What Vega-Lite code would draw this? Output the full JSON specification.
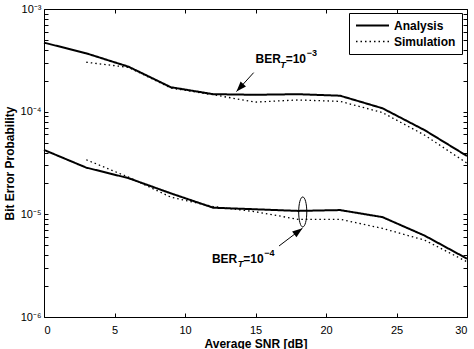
{
  "$schema": "https://vega.github.io/schema/vega-lite/v6.json",
  "width": 423,
  "height": 308,
  "autosize": {"type": "none"},
  "padding": {"left": 44, "top": 9, "right": 7, "bottom": 32},
  "config": {
    "view": {"stroke": "#000", "strokeWidth": 1},
    "font": "Liberation Sans",
    "axis": {
      "grid": false,
      "domain": false,
      "tickColor": "#000",
      "tickSize": -4,
      "tickWidth": 1,
      "labelColor": "#000",
      "labelFontSize": 11,
      "labelFont": "Liberation Sans",
      "titleFont": "Liberation Sans",
      "titleColor": "#000",
      "titleFontSize": 12,
      "titleFontWeight": "bold"
    }
  },
  "datasets": {
    "curves": [
      {"snr": 0, "ber": 4.7e-4, "type": "Analysis", "curve": "A3"},
      {"snr": 3, "ber": 3.7e-4, "type": "Analysis", "curve": "A3"},
      {"snr": 6, "ber": 2.74e-4, "type": "Analysis", "curve": "A3"},
      {"snr": 9, "ber": 1.73e-4, "type": "Analysis", "curve": "A3"},
      {"snr": 12, "ber": 1.48e-4, "type": "Analysis", "curve": "A3"},
      {"snr": 15, "ber": 1.46e-4, "type": "Analysis", "curve": "A3"},
      {"snr": 18, "ber": 1.48e-4, "type": "Analysis", "curve": "A3"},
      {"snr": 21, "ber": 1.43e-4, "type": "Analysis", "curve": "A3"},
      {"snr": 24, "ber": 1.08e-4, "type": "Analysis", "curve": "A3"},
      {"snr": 27, "ber": 6.6e-5, "type": "Analysis", "curve": "A3"},
      {"snr": 30, "ber": 3.7e-5, "type": "Analysis", "curve": "A3"},
      {"snr": 3, "ber": 3.03e-4, "type": "Simulation", "curve": "S3"},
      {"snr": 6, "ber": 2.7e-4, "type": "Simulation", "curve": "S3"},
      {"snr": 9, "ber": 1.7e-4, "type": "Simulation", "curve": "S3"},
      {"snr": 12, "ber": 1.46e-4, "type": "Simulation", "curve": "S3"},
      {"snr": 15, "ber": 1.24e-4, "type": "Simulation", "curve": "S3"},
      {"snr": 18, "ber": 1.3e-4, "type": "Simulation", "curve": "S3"},
      {"snr": 21, "ber": 1.26e-4, "type": "Simulation", "curve": "S3"},
      {"snr": 24, "ber": 9.8e-5, "type": "Simulation", "curve": "S3"},
      {"snr": 27, "ber": 5.9e-5, "type": "Simulation", "curve": "S3"},
      {"snr": 30, "ber": 3.15e-5, "type": "Simulation", "curve": "S3"},
      {"snr": 0, "ber": 4.24e-5, "type": "Analysis", "curve": "A4"},
      {"snr": 3, "ber": 2.85e-5, "type": "Analysis", "curve": "A4"},
      {"snr": 6, "ber": 2.25e-5, "type": "Analysis", "curve": "A4"},
      {"snr": 9, "ber": 1.6e-5, "type": "Analysis", "curve": "A4"},
      {"snr": 12, "ber": 1.16e-5, "type": "Analysis", "curve": "A4"},
      {"snr": 15, "ber": 1.12e-5, "type": "Analysis", "curve": "A4"},
      {"snr": 18, "ber": 1.08e-5, "type": "Analysis", "curve": "A4"},
      {"snr": 21, "ber": 1.1e-5, "type": "Analysis", "curve": "A4"},
      {"snr": 24, "ber": 9.4e-6, "type": "Analysis", "curve": "A4"},
      {"snr": 27, "ber": 6.2e-6, "type": "Analysis", "curve": "A4"},
      {"snr": 30, "ber": 3.7e-6, "type": "Analysis", "curve": "A4"},
      {"snr": 3, "ber": 3.4e-5, "type": "Simulation", "curve": "S4"},
      {"snr": 6, "ber": 2.3e-5, "type": "Simulation", "curve": "S4"},
      {"snr": 9, "ber": 1.47e-5, "type": "Simulation", "curve": "S4"},
      {"snr": 12, "ber": 1.19e-5, "type": "Simulation", "curve": "S4"},
      {"snr": 15, "ber": 1.06e-5, "type": "Simulation", "curve": "S4"},
      {"snr": 18, "ber": 8.95e-6, "type": "Simulation", "curve": "S4"},
      {"snr": 21, "ber": 8.95e-6, "type": "Simulation", "curve": "S4"},
      {"snr": 24, "ber": 7.3e-6, "type": "Simulation", "curve": "S4"},
      {"snr": 27, "ber": 5.6e-6, "type": "Simulation", "curve": "S4"},
      {"snr": 30, "ber": 3.45e-6, "type": "Simulation", "curve": "S4"}
    ],
    "labels": [
      {"x": 15.0, "y": 2.95e-4, "t": "BER", "k": "main"},
      {"x": 16.75, "y": 2.69e-4, "t": "T", "k": "sub"},
      {"x": 17.14, "y": 2.95e-4, "t": "=10", "k": "main"},
      {"x": 18.63, "y": 3.48e-4, "t": "−3", "k": "sup"},
      {"x": 11.91, "y": 3.34e-6, "t": "BER", "k": "main"},
      {"x": 13.74, "y": 3.06e-6, "t": "T", "k": "sub"},
      {"x": 14.13, "y": 3.34e-6, "t": "=10", "k": "main"},
      {"x": 15.62, "y": 3.95e-6, "t": "−4", "k": "sup"}
    ],
    "arrows": [
      {"id": "a1", "x": 14.87, "y": 2.4e-4, "x2": 13.65, "y2": 1.57e-4},
      {"id": "a2", "x": 16.67, "y": 4.92e-6, "x2": 18.33, "y2": 7.32e-6}
    ],
    "ellipse": [{"x": 18.35, "y": 1.055e-5}]
  },
  "layer": [
    {
      "data": {"name": "curves"},
      "mark": {"type": "line", "color": "#000", "strokeJoin": "round"},
      "encoding": {
        "x": {
          "field": "snr", "type": "quantitative",
          "scale": {"domain": [0, 30], "nice": false, "zero": false},
          "axis": {
            "orient": "bottom", "values": [0, 5, 10, 15, 20, 25, 30],
            "title": "Average SNR [dB]", "labelPadding": 11,
            "titleX": 211.5, "titleY": 30, "titleBaseline": "alphabetic", "titleAnchor": "middle", "titleAlign": "center"
          }
        },
        "y": {
          "field": "ber", "type": "quantitative",
          "scale": {"type": "log", "domain": [1e-6, 1e-3], "nice": false},
          "axis": {
            "orient": "left",
            "values": [1e-6, 2e-6, 3e-6, 4e-6, 5e-6, 6e-6, 7e-6, 8e-6, 9e-6, 1e-5, 2e-5, 3e-5, 4e-5, 5e-5, 6e-5, 7e-5, 8e-5, 9e-5, 1e-4, 2e-4, 3e-4, 4e-4, 5e-4, 6e-4, 7e-4, 8e-4, 9e-4, 1e-3],
            "labelExpr": "datum.value===0.001?'10⁻³':datum.value===0.0001?'10⁻⁴':datum.value===0.00001?'10⁻⁵':datum.value===0.000001?'10⁻⁶':''",
            "labelPadding": 7,
            "title": "Bit Error Probability",
            "titleAngle": -90, "titleX": -35, "titleY": 154, "titleAlign": "center", "titleBaseline": "middle"
          }
        },
        "strokeDash": {
          "field": "type", "type": "nominal",
          "scale": {"domain": ["Analysis", "Simulation"], "range": [[1, 0], [1.5, 3]]},
          "legend": {
            "orient": "none", "legendX": 305, "legendY": 4,
            "title": null, "strokeColor": "#000", "fillColor": "#fff",
            "padding": 6, "cornerRadius": 0,
            "symbolType": "M-1,0H5", "symbolSize": 121, "symbolStrokeColor": "#000", "symbolFillColor": "transparent",
            "labelFontSize": 12, "labelFontWeight": "bold", "labelColor": "#000", "labelFont": "Liberation Sans",
            "labelOffset": 26, "rowPadding": 3
          }
        },
        "strokeWidth": {
          "field": "type", "type": "nominal",
          "scale": {"domain": ["Analysis", "Simulation"], "range": [2, 1.3]},
          "legend": {
            "orient": "none", "legendX": 305, "legendY": 4,
            "title": null, "strokeColor": "#000", "fillColor": "#fff",
            "padding": 6, "cornerRadius": 0,
            "symbolType": "M-1,0H5", "symbolSize": 121, "symbolStrokeColor": "#000", "symbolFillColor": "transparent",
            "labelFontSize": 12, "labelFontWeight": "bold", "labelColor": "#000", "labelFont": "Liberation Sans",
            "labelOffset": 26, "rowPadding": 3
          }
        },
        "detail": {"field": "curve", "type": "nominal"}
      }
    },
    {
      "data": {"name": "curves"},
      "mark": {"type": "point", "opacity": 0},
      "encoding": {
        "x": {
          "field": "snr", "type": "quantitative",
          "scale": {"domain": [0, 30], "nice": false, "zero": false},
          "axis": {"orient": "top", "values": [0, 5, 10, 15, 20, 25, 30], "labels": false, "title": null}
        },
        "y": {
          "field": "ber", "type": "quantitative",
          "scale": {"type": "log", "domain": [1e-6, 1e-3], "nice": false},
          "axis": {
            "orient": "right", "labels": false, "title": null,
            "values": [1e-6, 2e-6, 3e-6, 4e-6, 5e-6, 6e-6, 7e-6, 8e-6, 9e-6, 1e-5, 2e-5, 3e-5, 4e-5, 5e-5, 6e-5, 7e-5, 8e-5, 9e-5, 1e-4, 2e-4, 3e-4, 4e-4, 5e-4, 6e-4, 7e-4, 8e-4, 9e-4, 1e-3]
          }
        }
      }
    },
    {
      "data": {"name": "arrows"},
      "mark": {"type": "rule", "color": "#000", "strokeWidth": 1},
      "encoding": {
        "x": {"field": "x", "type": "quantitative", "axis": null},
        "y": {"field": "y", "type": "quantitative", "scale": {"type": "log"}, "axis": null},
        "x2": {"field": "x2"},
        "y2": {"field": "y2"}
      }
    },
    {
      "data": {"name": "arrows"},
      "transform": [{"filter": "datum.id === 'a1'"}],
      "mark": {"type": "point", "shape": "M0,0L0.6,1.7L-0.6,1.7Z", "size": 144, "filled": true, "color": "#000", "opacity": 1, "angle": 222},
      "encoding": {
        "x": {"field": "x2", "type": "quantitative", "axis": null},
        "y": {"field": "y2", "type": "quantitative", "scale": {"type": "log"}, "axis": null}
      }
    },
    {
      "data": {"name": "arrows"},
      "transform": [{"filter": "datum.id === 'a2'"}],
      "mark": {"type": "point", "shape": "M0,0L0.6,1.7L-0.6,1.7Z", "size": 144, "filled": true, "color": "#000", "opacity": 1, "angle": 53},
      "encoding": {
        "x": {"field": "x2", "type": "quantitative", "axis": null},
        "y": {"field": "y2", "type": "quantitative", "scale": {"type": "log"}, "axis": null}
      }
    },
    {
      "data": {"name": "ellipse"},
      "mark": {"type": "point", "shape": "M0,-1C0.149,-1 0.27,-0.552 0.27,0C0.27,0.552 0.149,1 0,1C-0.149,1 -0.27,0.552 -0.27,0C-0.27,-0.552 -0.149,-1 0,-1Z", "size": 900, "filled": false, "stroke": "#000", "strokeWidth": 1, "opacity": 1},
      "encoding": {
        "x": {"field": "x", "type": "quantitative", "axis": null},
        "y": {"field": "y", "type": "quantitative", "scale": {"type": "log"}, "axis": null}
      }
    },
    {
      "data": {"name": "labels"},
      "transform": [{"filter": "datum.k === 'main'"}],
      "mark": {"type": "text", "align": "left", "baseline": "alphabetic", "fontSize": 12, "fontWeight": "bold", "font": "Liberation Sans", "color": "#000"},
      "encoding": {
        "x": {"field": "x", "type": "quantitative", "axis": null},
        "y": {"field": "y", "type": "quantitative", "scale": {"type": "log"}, "axis": null},
        "text": {"field": "t"}
      }
    },
    {
      "data": {"name": "labels"},
      "transform": [{"filter": "datum.k === 'sub'"}],
      "mark": {"type": "text", "align": "left", "baseline": "alphabetic", "fontSize": 9, "fontWeight": "bold", "fontStyle": "italic", "font": "Liberation Sans", "color": "#000"},
      "encoding": {
        "x": {"field": "x", "type": "quantitative", "axis": null},
        "y": {"field": "y", "type": "quantitative", "scale": {"type": "log"}, "axis": null},
        "text": {"field": "t"}
      }
    },
    {
      "data": {"name": "labels"},
      "transform": [{"filter": "datum.k === 'sup'"}],
      "mark": {"type": "text", "align": "left", "baseline": "alphabetic", "fontSize": 9, "fontWeight": "bold", "font": "Liberation Sans", "color": "#000"},
      "encoding": {
        "x": {"field": "x", "type": "quantitative", "axis": null},
        "y": {"field": "y", "type": "quantitative", "scale": {"type": "log"}, "axis": null},
        "text": {"field": "t"}
      }
    }
  ],
  "resolve": {"axis": {"x": "independent", "y": "independent"}}
}
